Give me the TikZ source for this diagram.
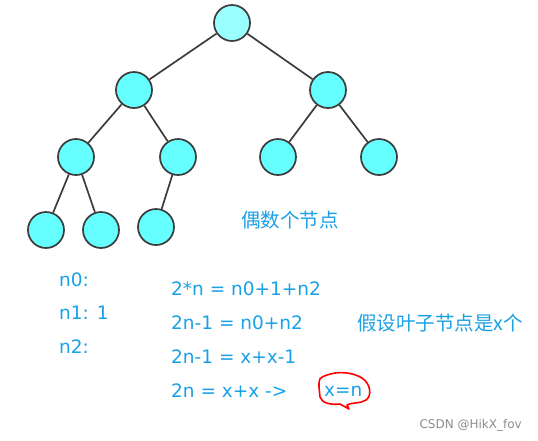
\documentclass[tikz,border=0pt]{standalone}
\usepackage{fontspec}
\setmainfont{DejaVu Sans}
\newfontfamily\cjk{Noto Sans CJK SC}
\usepackage{tikz}
\usetikzlibrary{positioning}
\definecolor{nodecyan}{HTML}{66FFFF}
\definecolor{rootcyan}{HTML}{99FFFF}
\definecolor{noteblue}{HTML}{1AA0E6}
\definecolor{linegray}{HTML}{3C3C3C}
\tikzstyle{tnode} = [circle, draw=linegray, line width=1.7pt, fill=nodecyan, minimum size=36pt, inner sep=0pt]
\tikzstyle{edge} = [draw, linegray, line width=1.7pt]
\tikzstyle{note} = [text=noteblue, font=\fontsize{18.5}{22}\selectfont, anchor=west, inner sep=0pt]
\tikzstyle{cjknote} = [note, font=\cjk\fontsize{19.5}{22}\selectfont]

\begin{document}
\begin{tikzpicture}[x=1pt, y=-1pt]
        \useasboundingbox (0,0) rectangle (538,440);
        % tree
        \node [tnode, fill=rootcyan] (root) at (232,23) {};
        \node [tnode] (l) at (134,90) {};
        \node [tnode] (r) at (328,90) {};
        \node [tnode] (ll) at (76,157) {};
        \node [tnode] (lr) at (178,157) {};
        \node [tnode] (rl) at (278,157) {};
        \node [tnode] (rr) at (379,157) {};
        \node [tnode] (lll) at (46,230) {};
        \node [tnode] (llr) at (101,230) {};
        \node [tnode] (lrl) at (156,227) {};

        \path [edge] (root) -- (l);
        \path [edge] (root) -- (r);
        \path [edge] (l) -- (ll);
        \path [edge] (l) -- (lr);
        \path [edge] (r) -- (rl);
        \path [edge] (r) -- (rr);
        \path [edge] (ll) -- (lll);
        \path [edge] (ll) -- (llr);
        \path [edge] (lr) -- (lrl);

        % notes
        \node [cjknote, anchor=center] (even) at (290,220) {偶数个节点};
        \node [note] (n0) at (59,280) {n0:};
        \node [note] (n1) at (59,313) {n1: 1};
        \node [note] (n2) at (59,347) {n2:};
        \node [note] (eq1) at (171,289) {2*n = n0+1+n2};
        \node [note] (eq2) at (171,323) {2n-1 = n0+n2};
        \node [note] (eq3) at (171,357) {2n-1 = x+x-1};
        \node [note] (eq4) at (171,391) {2n = x+x ->};
        \node [cjknote] (leaf) at (357,323) {假设叶子节点是x个};
        \node [note] (res) at (324,391) {x=n};
        \draw [red, line width=1.6pt, line join=round]
            (319,387) .. controls (319,378) .. (327,375)
            .. controls (338,371) and (352,372) .. (362,378)
            .. controls (371,384) and (372,396) .. (366,400)
            .. controls (360,404) and (352,402) .. (347,405)
            -- (349,409) -- (340,404)
            .. controls (330,405) and (322,403) .. (320,397)
            -- cycle;

        \node [text=black!45, font=\fontsize{12}{14}\selectfont, anchor=east, inner sep=0pt] (mark) at (522,425) {CSDN @HikX\_fov};
    \end{tikzpicture}
\end{document}
